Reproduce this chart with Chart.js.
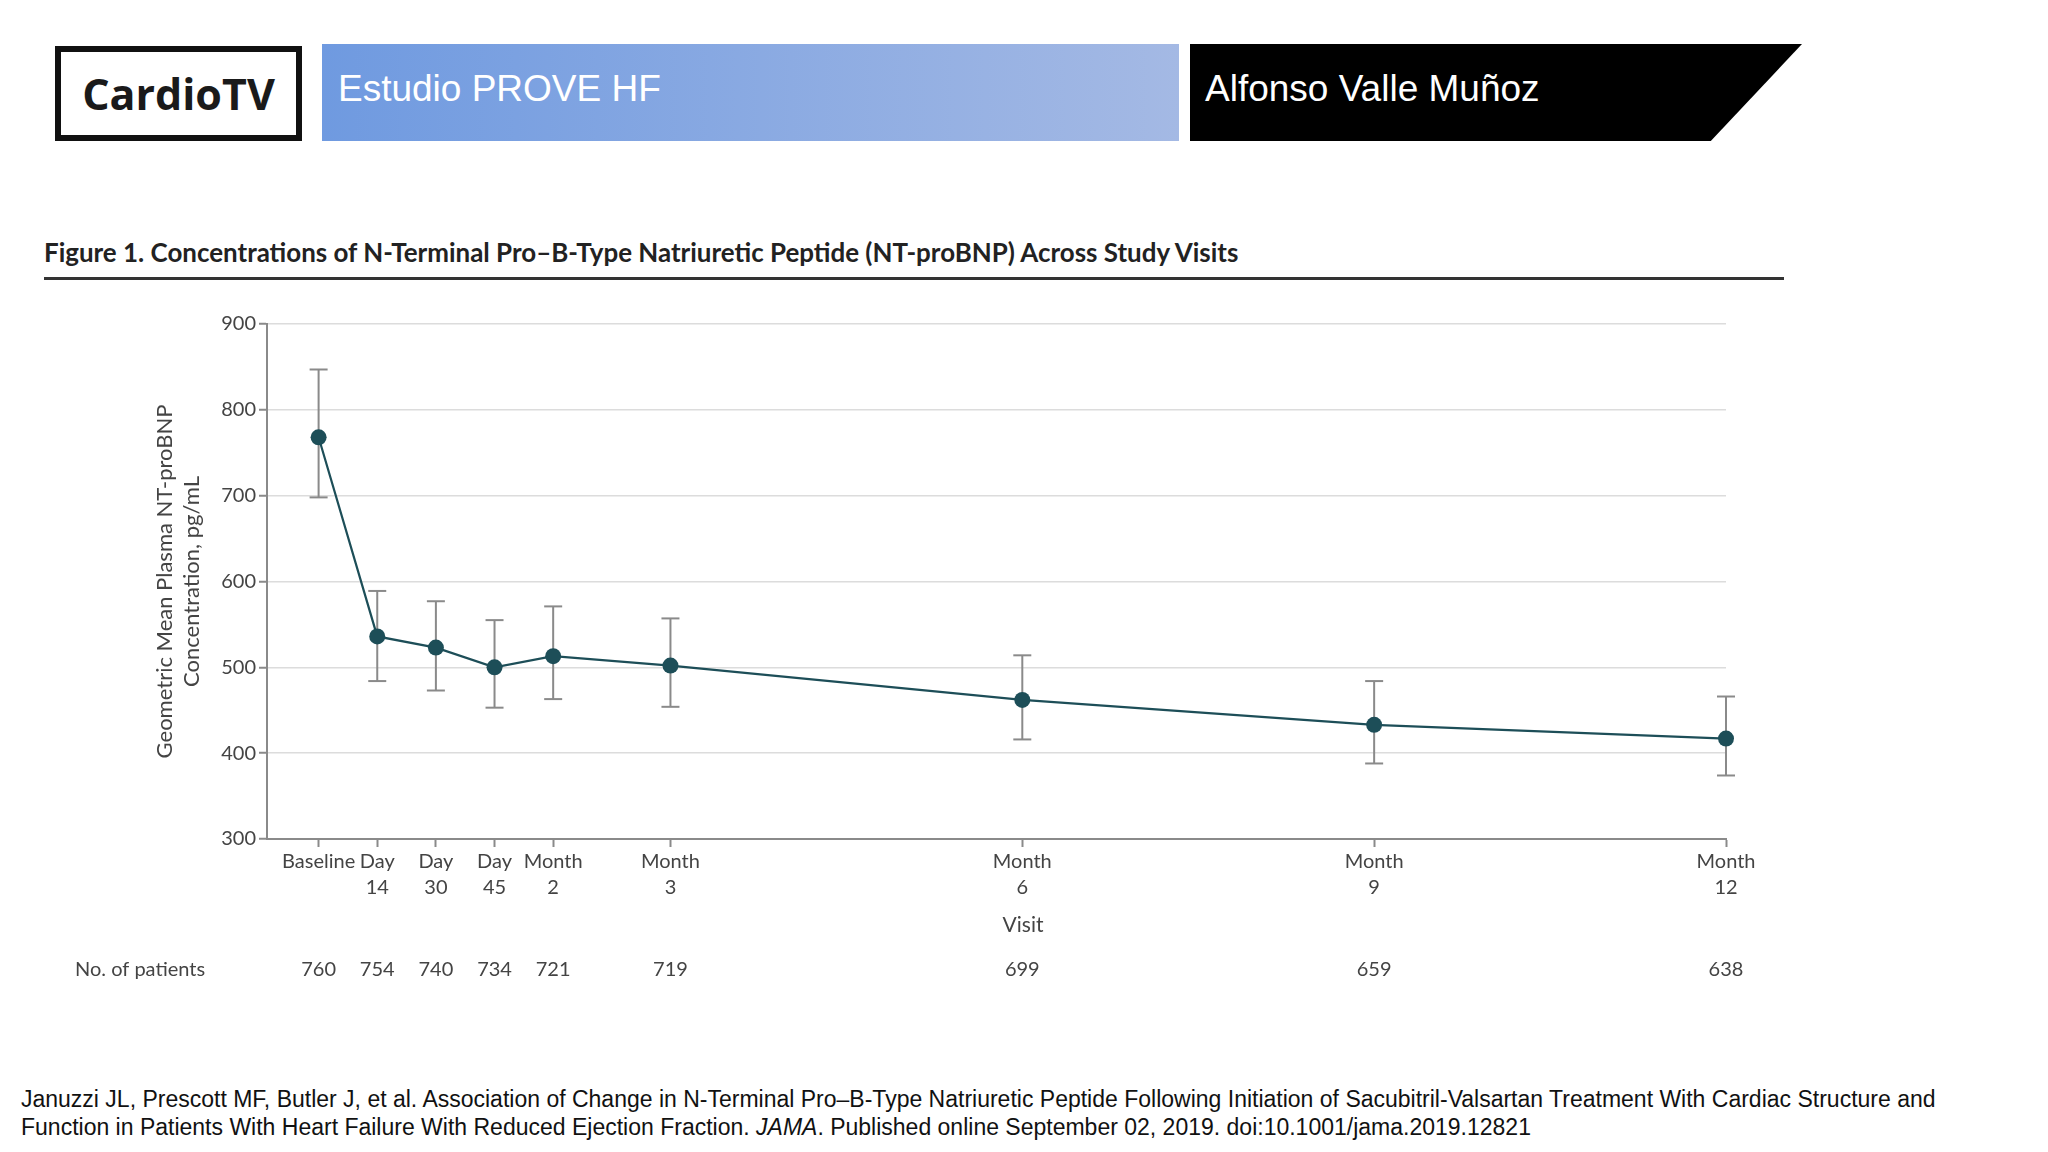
<!DOCTYPE html>
<html>
<head>
<meta charset="utf-8">
<script src="https://cdn.jsdelivr.net/npm/chart.js@4.4.1/dist/chart.umd.min.js"></script>
<style>
  body { margin: 0; width: 2048px; height: 1152px; background: #fff; position: relative; overflow: hidden; font-family: "Liberation Sans", Arial, sans-serif; }
  #logo { position: absolute; left: 55px; top: 46px; width: 235px; height: 83px; border: 6px solid #111; display: flex; align-items: center; justify-content: center; font-family: "Open Sans"; font-weight: 700; font-size: 43px; color: #1a1a1a; }
  #study { position: absolute; left: 322px; top: 44px; width: 857px; height: 97px; background: linear-gradient(to right, #6f9ae0, #a4b9e4); color: #fff; font-size: 37px; line-height: 90px; padding-left: 16px; box-sizing: border-box; }
  #author { position: absolute; left: 1190px; top: 44px; width: 612px; height: 97px; background: #000; clip-path: polygon(0 0, 100% 0, 85.1% 100%, 0 100%); color: #fff; font-size: 37px; line-height: 90px; padding-left: 15px; box-sizing: border-box; }
  #figtitle { position: absolute; left: 44px; top: 236px; font-family: Lato; font-weight: 700; font-size: 26px; color: #222; white-space: nowrap; transform-origin: left center; }
  #rule { position: absolute; left: 44px; top: 277px; width: 1740px; height: 3px; background: #333; }
  #wrap { position: absolute; left: 0; top: 290px; width: 1800px; height: 730px; }
  #ref { position: absolute; left: 21px; top: 1086px; font-size: 23px; line-height: 27.5px; color: #111; white-space: nowrap; }
</style>
</head>
<body>
<div id="logo">CardioTV</div>
<div id="study">Estudio PROVE HF</div>
<div id="author">Alfonso Valle Muñoz</div>
<div id="figtitle">Figure 1. Concentrations of N-Terminal Pro–B-Type Natriuretic Peptide (NT-proBNP) Across Study Visits</div>
<div id="rule"></div>
<div id="wrap"><canvas id="ntChart" width="1800" height="730"></canvas></div>
<div id="ref">Januzzi JL, Prescott MF, Butler J, et al. Association of Change in N-Terminal Pro–B-Type Natriuretic Peptide Following Initiation of Sacubitril-Valsartan Treatment With Cardiac Structure and<br>Function in Patients With Heart Failure With Reduced Ejection Fraction. <i>JAMA</i>. Published online September 02, 2019. doi:10.1001/jama.2019.12821</div>
<script>
// visits, placed on a month scale
const visitLabels = ['Baseline', ['Day', '14'], ['Day', '30'], ['Day', '45'], ['Month', '2'], ['Month', '3'], ['Month', '6'], ['Month', '9'], ['Month', '12']];
const visitMonths = [0, 0.5, 1, 1.5, 2, 3, 6, 9, 12];

// geometric mean NT-proBNP (pg/mL) and 95% CI
const geoMean = [768, 536, 523, 500, 513, 502, 462, 433, 417];
const ciLow   = [698, 484, 473, 453, 463, 454, 416, 388, 374];
const ciHigh  = [847, 589, 577, 555, 571, 557, 514, 484, 466];

const patients = [760, 754, 740, 734, 721, 719, 699, 659, 638];
const yTicks = [300, 400, 500, 600, 700, 800, 900];

document.fonts.ready.then(function() {
    // fit the figure title to the width in the original
    const t = document.getElementById('figtitle');
    t.style.transform = 'scaleX(' + (1194 / t.offsetWidth) + ')';

    const meanPoints = visitMonths.map((m, i) => ({ x: m, y: geoMean[i] }));
    const stems = [];
    visitMonths.forEach((m, i) => {
        stems.push({ x: m, y: ciLow[i] }, { x: m, y: ciHigh[i] }, { x: m, y: null });
    });
    const caps = visitMonths.flatMap((m, i) => [{ x: m, y: ciLow[i] }, { x: m, y: ciHigh[i] }]);

    const tickFont = { family: 'Lato', size: 20, lineHeight: 1.3 };
    const axisGrey = '#8a8a8a';

    // "Visit" sits under Month 6 in the original, and the row label on the far left
    const extraLabels = {
        id: 'extraLabels',
        afterDraw(chart) {
            const ctx = chart.ctx;
            const x = chart.scales.x;
            const s = chart.scales.x2;
            ctx.save();
            ctx.fillStyle = '#444';
            ctx.textBaseline = 'middle';
            ctx.textAlign = 'center';
            ctx.font = '21px Lato';
            ctx.fillText('Visit', 1023, x.bottom - 14);
            ctx.font = '20px Lato';
            ctx.textAlign = 'left';
            ctx.fillText('No. of patients', 75, s.top + 18 + 13);
            ctx.restore();
        }
    };

    new Chart(document.getElementById('ntChart'), {
        type: 'line',
        data: {
            datasets: [{
                data: meanPoints,
                borderColor: '#1d4e58',
                backgroundColor: '#1d4e58',
                borderWidth: 2.2,
                pointRadius: 8,
                pointBorderWidth: 0,
                pointBackgroundColor: '#1d4e58',
                tension: 0,
                clip: false,
                order: 0
            }, {
                data: stems,
                borderColor: axisGrey,
                borderWidth: 2,
                pointRadius: 0,
                spanGaps: false,
                clip: false,
                order: 2
            }, {
                data: caps,
                showLine: false,
                pointStyle: 'line',
                pointRadius: 9,
                pointBorderWidth: 2,
                pointBorderColor: axisGrey,
                clip: false,
                order: 1
            }]
        },
        options: {
            responsive: false,
            animation: false,
            layout: { padding: { left: 0, top: 34, right: 74, bottom: 21 } },
            plugins: { legend: { display: false }, tooltip: { enabled: false } },
            scales: {
                x: {
                    type: 'linear',
                    min: -0.44,
                    max: 12,
                    weight: 0,
                    afterBuildTicks: s => { s.ticks = visitMonths.map(v => ({ value: v })); },
                    afterFit: s => { s.height = 100; },
                    ticks: { autoSkip: false, maxRotation: 0, padding: 2, color: '#444', font: tickFont,
                        callback: (v, i) => visitLabels[i] },
                    grid: { drawOnChartArea: false, drawTicks: true, tickLength: 8, tickColor: axisGrey, tickWidth: 2 },
                    border: { color: axisGrey, width: 2 }
                },
                x2: {
                    type: 'linear',
                    position: 'bottom',
                    min: -0.44,
                    max: 12,
                    weight: 1,
                    afterBuildTicks: s => { s.ticks = visitMonths.map(v => ({ value: v })); },
                    afterFit: s => { s.height = 60; },
                    ticks: { autoSkip: false, maxRotation: 0, padding: 18, color: '#444', font: tickFont,
                        callback: (v, i) => String(patients[i]) },
                    grid: { display: false, drawTicks: false },
                    border: { display: false }
                },
                y: {
                    min: 300,
                    max: 900,
                    afterBuildTicks: s => { s.ticks = yTicks.map(v => ({ value: v })); },
                    afterFit: s => { s.width = 267; },
                    ticks: { padding: 3, color: '#444', font: tickFont },
                    grid: { color: '#dcdcdc', lineWidth: 1.5, tickColor: axisGrey, tickLength: 8, tickWidth: 2 },
                    border: { color: axisGrey, width: 2 },
                    title: { display: true, text: ['Geometric Mean Plasma NT-proBNP', 'Concentration, pg/mL'], color: '#444',
                        font: { family: 'Lato', size: 22, lineHeight: 1.25 }, padding: { top: 151, bottom: 0 } }
                }
            }
        },
        plugins: [extraLabels]
    });
});
</script>
</body>
</html>
